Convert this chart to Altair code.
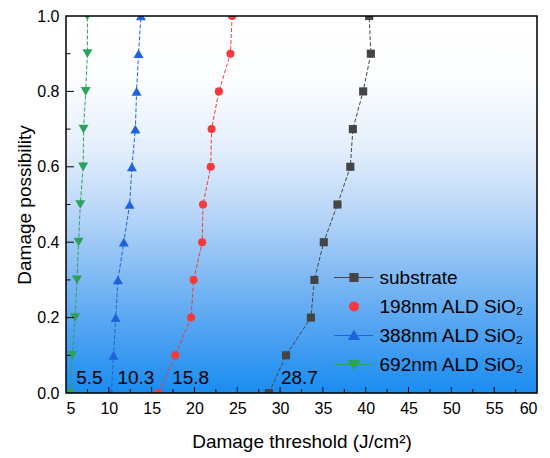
import altair as alt
import pandas as pd

# ---------------- data ----------------
series_names = ["substrate", "198nm ALD SiO₂", "388nm ALD SiO₂", "692nm ALD SiO₂"]
probability = [0.0, 0.1, 0.2, 0.3, 0.4, 0.5, 0.6, 0.7, 0.8, 0.9, 1.0]
substrate = [28.7, 30.7, 33.6, 34.0, 35.1, 36.7, 38.2, 38.5, 39.7, 40.6, 40.4]
sio2_198 = [15.8, 17.75, 19.6, 19.9, 20.9, 21.0, 21.9, 22.0, 22.85, 24.2, 24.4]
sio2_388 = [10.3, 10.55, 10.8, 11.07, 11.75, 12.43, 12.7, 13.1, 13.24, 13.47, 13.75]
sio2_692 = [5.5, 5.73, 6.05, 6.28, 6.47, 6.67, 7.0, 7.05, 7.3, 7.5, 7.5]

ann_text = ["5.5", "10.3", "15.8", "28.7"]
ann_x = [6.2, 11.0, 17.4, 30.1]
ann_y = [0.025, 0.025, 0.025, 0.025]

x_labels = [5, 10, 15, 20, 25, 30, 35, 40, 45, 50, 55, 60]
y_labels = [0.0, 0.2, 0.4, 0.6, 0.8, 1.0]
x_major_ticks = [10, 15, 20, 25, 30, 35, 40, 45, 50, 55]
x_minor_ticks = [7.5, 12.5, 17.5, 22.5, 27.5, 32.5, 37.5, 42.5, 47.5, 52.5, 57.5]
y_major_ticks = [0.2, 0.4, 0.6, 0.8]
y_minor_ticks = [0.1, 0.3, 0.5, 0.7, 0.9]

colors = ["#454545", "#f43a3a", "#1f63dc", "#2ca25a"]
shapes = ["square", "circle", "triangle-up", "triangle-down"]
legend_paths = [
    "M-5,0H4.8M-1,-1H1V1H-1Z",
    "M-1.1,0A1.1,1.1,0,1,1,1.1,0A1.1,1.1,0,1,1,-1.1,0Z",
    "M-5,0H4.8M0,-1.2L1.3,1L-1.3,1Z",
    "M-5,0H4.8M0,1.2L1.3,-1L-1.3,-1Z",
]

FONT = "Liberation Sans"
W, H = 471, 377

rows = []
for name, vals in zip(series_names, [substrate, sio2_198, sio2_388, sio2_692]):
    for p, v in zip(probability, vals):
        rows.append({"series": name, "threshold": v, "p": p})
df = pd.DataFrame(rows)

ann_df = pd.DataFrame({"t": ann_text, "x": ann_x, "y": ann_y})

xscale = alt.Scale(domain=[5, 60], nice=False, zero=False)
yscale = alt.Scale(domain=[0, 1], nice=False, zero=False)

x_axis = alt.Axis(
    title="Damage threshold (J/cm²)", values=x_labels, ticks=False, tickSize=0,
    domain=False, grid=False, labelFontSize=16, labelPadding=7, labelColor="black",
    labelFont=FONT, titleFont=FONT, titleFontSize=19, titleFontWeight="normal",
    titleColor="black", titleY=54, titleBaseline="alphabetic",
)
y_axis = alt.Axis(
    title="Damage possibility", values=y_labels, format=".1f", ticks=False, tickSize=0,
    domain=False, grid=False, labelFontSize=16, labelPadding=7, labelColor="black",
    labelFont=FONT, titleFont=FONT, titleFontSize=19, titleFontWeight="normal",
    titleColor="black", titleX=-42, titleY=H / 2, titleAngle=270,
    titleBaseline="middle", titleAlign="center",
)

X = alt.X("threshold:Q", scale=xscale, axis=x_axis)
Y = alt.Y("p:Q", scale=yscale, axis=y_axis)

# gradient background
bg = alt.Chart(pd.DataFrame({"a": [0]})).mark_rect(
    color=alt.Gradient(
        gradient="linear",
        stops=[
            alt.GradientStop(color="#ffffff", offset=0),
            alt.GradientStop(color="#fbfdff", offset=0.18),
            alt.GradientStop(color="#e4effc", offset=0.35),
            alt.GradientStop(color="#b9d6f8", offset=0.52),
            alt.GradientStop(color="#84bbf4", offset=0.68),
            alt.GradientStop(color="#4ea2f1", offset=0.84),
            alt.GradientStop(color="#1a8cf0", offset=1),
        ],
        x1=0, x2=0, y1=0, y2=1,
    )
).encode(x=alt.value(0), x2=alt.value(W), y=alt.value(0), y2=alt.value(H))

base = alt.Chart(df)

line_layers = []
point_layers = []
for name, col, shp in zip(series_names, colors, shapes):
    sub = base.transform_filter(alt.datum.series == name)
    line_layers.append(
        sub.mark_line(strokeWidth=1, strokeDash=[4, 2], color=col, clip=True).encode(
            x=X, y=Y, order=alt.Order("p:Q")
        )
    )
    size = 100 if "triangle" in shp else 66
    point_layers.append(
        sub.mark_point(filled=True, shape=shp, color=col, size=size, opacity=1, clip=True)
        .encode(x=X, y=Y)
    )

leg = alt.Legend(
    title=None, orient="none", legendX=278.5, legendY=252, padding=0, zindex=5,
    labelFontSize=19, labelFont=FONT, labelColor="black", labelLimit=400,
    symbolSize=64, symbolStrokeWidth=1.2, symbolOpacity=1, labelOffset=16,
    rowPadding=9,
)
legend_layer = base.mark_point(filled=True, clip=True).encode(
    x=X, y=Y,
    opacity=alt.value(0),
    fill=alt.Fill("series:N", scale=alt.Scale(domain=series_names, range=colors), legend=leg),
    stroke=alt.Stroke("series:N", scale=alt.Scale(domain=series_names, range=colors), legend=leg),
    shape=alt.Shape("series:N", scale=alt.Scale(domain=series_names, range=legend_paths), legend=leg),
)

ann = alt.Chart(ann_df).mark_text(
    align="left", baseline="alphabetic", fontSize=19, font=FONT, color="black"
).encode(x=alt.X("x:Q", scale=xscale), y=alt.Y("y:Q", scale=yscale), text="t:N")


def xtick_layer(vals, length):
    return alt.Chart(pd.DataFrame({"v": vals})).mark_rule(color="black", strokeWidth=1).encode(
        x=alt.X("v:Q", scale=xscale), y=alt.value(H), y2=alt.value(H - length)
    )


def ytick_layer(vals, length):
    return alt.Chart(pd.DataFrame({"v": vals})).mark_rule(color="black", strokeWidth=1).encode(
        y=alt.Y("v:Q", scale=yscale), x=alt.value(0), x2=alt.value(length)
    )


frame = alt.Chart(pd.DataFrame({"a": [0]})).mark_rect(
    filled=False, stroke="black", strokeWidth=1.5
).encode(x=alt.value(0), x2=alt.value(W), y=alt.value(0), y2=alt.value(H))

chart = alt.layer(
    bg, *line_layers, *point_layers, legend_layer, ann,
    xtick_layer(x_major_ticks, 6), xtick_layer(x_minor_ticks, 4),
    ytick_layer(y_major_ticks, 8), ytick_layer(y_minor_ticks, 4.5),
    frame,
).properties(
    width=W, height=H,
    autosize=alt.AutoSizeParams(type="none"),
    padding={"left": 58, "top": 8, "right": 5, "bottom": 62},
).configure_view(stroke=None).configure(background="white")

chart.save("out.html", embed_options={"renderer": "svg", "actions": False})
